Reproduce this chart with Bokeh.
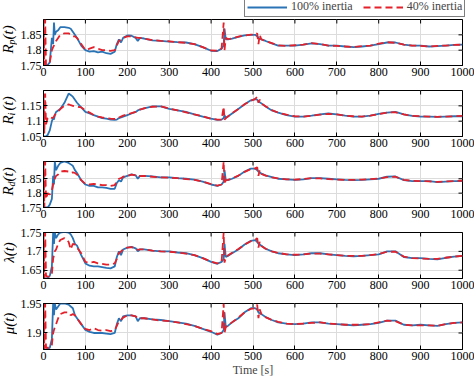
from math import pi
from bokeh.plotting import figure
from bokeh.models import FixedTicker, Legend, LegendItem, Range1d
from bokeh.layouts import column, row
from bokeh.embed import file_html
from bokeh.resources import INLINE
from bokeh.core.properties import value

# ---------------- data ----------------
T = [0, 2, 4, 6, 10, 15, 20, 23, 25, 27,
     30, 35, 40, 50, 60, 65, 70, 75, 80, 90,
     100, 110, 120, 130, 140, 150, 160, 170, 175, 180,
     185, 190, 200, 210, 220, 225, 230, 240, 260, 280,
     300, 320, 340, 360, 380, 400, 415, 425, 430, 432,
     435, 440, 450, 465, 480, 495, 505, 510, 513, 516,
     520, 530, 545, 560, 580, 600, 620, 640, 660, 680,
     700, 720, 740, 760, 780, 800, 820, 840, 860, 880,
     900, 920, 940, 960, 980, 1000]

RP_B = [1.745, 1.745, 1.748, 1.75, 1.752, 1.76, 1.84, 1.82, 1.89, 1.85,
        1.86, 1.865, 1.875, 1.875, 1.873, 1.87, 1.86, 1.85, 1.84, 1.815,
        1.80, 1.795, 1.797, 1.793, 1.795, 1.79, 1.788, 1.795, 1.82, 1.835,
        1.825, 1.84, 1.848, 1.847, 1.84, 1.83, 1.84, 1.838, 1.832, 1.83,
        1.828, 1.826, 1.825, 1.82, 1.81, 1.798, 1.797, 1.805, 1.815, 1.87,
        1.835, 1.835, 1.838, 1.843, 1.848, 1.85, 1.85, 1.845, 1.84, 1.838,
        1.835, 1.83, 1.822, 1.815, 1.815, 1.815, 1.818, 1.822, 1.82, 1.815,
        1.815, 1.812, 1.81, 1.812, 1.815, 1.82, 1.825, 1.825, 1.818, 1.815,
        1.815, 1.812, 1.813, 1.815, 1.817, 1.818]
RP_R = [1.90, 1.75, 1.90, 1.75, 1.755, 1.76, 1.80, 1.81, 1.815, 1.82,
        1.83, 1.84, 1.85, 1.855, 1.855, 1.85, 1.845, 1.845, 1.84, 1.82,
        1.80, 1.805, 1.81, 1.805, 1.80, 1.80, 1.798, 1.80, 1.815, 1.83,
        1.835, 1.84, 1.845, 1.845, 1.842, 1.84, 1.84, 1.838, 1.833, 1.83,
        1.829, 1.826, 1.824, 1.82, 1.81, 1.799, 1.798, 1.805, 1.89, 1.80,
        1.84, 1.836, 1.838, 1.844, 1.848, 1.851, 1.85, 1.855, 1.82, 1.85,
        1.835, 1.83, 1.823, 1.816, 1.814, 1.816, 1.818, 1.823, 1.82, 1.815,
        1.814, 1.812, 1.81, 1.813, 1.815, 1.821, 1.826, 1.824, 1.818, 1.815,
        1.814, 1.812, 1.814, 1.815, 1.817, 1.818]

RI_B = [1.05, 1.05, 1.05, 1.05, 1.055, 1.07, 1.10, 1.11, 1.105, 1.12,
        1.13, 1.135, 1.14, 1.16, 1.19, 1.185, 1.18, 1.17, 1.16, 1.145,
        1.13, 1.125, 1.12, 1.115, 1.11, 1.108, 1.105, 1.104, 1.105, 1.11,
        1.112, 1.115, 1.12, 1.125, 1.13, 1.135, 1.138, 1.142, 1.148, 1.148,
        1.14, 1.135, 1.13, 1.122, 1.115, 1.108, 1.104, 1.105, 1.11, 1.12,
        1.11, 1.115, 1.125, 1.14, 1.155, 1.168, 1.172, 1.17, 1.165, 1.162,
        1.158, 1.148, 1.135, 1.128, 1.12, 1.115, 1.115, 1.118, 1.122, 1.125,
        1.122, 1.118, 1.115, 1.115, 1.118, 1.124, 1.128, 1.13, 1.122, 1.117,
        1.115, 1.115, 1.114, 1.115, 1.116, 1.116]
RI_R = [1.19, 1.06, 1.19, 1.09, 1.11, 1.115, 1.11, 1.112, 1.115, 1.12,
        1.125, 1.13, 1.14, 1.15, 1.155, 1.152, 1.15, 1.148, 1.147, 1.145,
        1.135, 1.128, 1.12, 1.115, 1.112, 1.11, 1.108, 1.107, 1.108, 1.112,
        1.115, 1.118, 1.122, 1.126, 1.13, 1.134, 1.138, 1.142, 1.147, 1.148,
        1.141, 1.135, 1.129, 1.122, 1.116, 1.108, 1.105, 1.105, 1.147, 1.105,
        1.11, 1.115, 1.126, 1.14, 1.155, 1.167, 1.172, 1.18, 1.16, 1.17,
        1.158, 1.149, 1.136, 1.128, 1.121, 1.116, 1.115, 1.118, 1.121, 1.124,
        1.122, 1.118, 1.116, 1.115, 1.118, 1.123, 1.128, 1.129, 1.122, 1.117,
        1.116, 1.115, 1.114, 1.115, 1.116, 1.117]

RD_B = [1.75, 1.75, 1.75, 1.75, 1.75, 1.76, 1.78, 1.86, 1.83, 1.91,
        1.88, 1.895, 1.905, 1.91, 1.905, 1.90, 1.895, 1.88, 1.87, 1.845,
        1.83, 1.825, 1.825, 1.82, 1.82, 1.818, 1.815, 1.815, 1.835, 1.845,
        1.84, 1.855, 1.86, 1.865, 1.862, 1.85, 1.86, 1.86, 1.858, 1.855,
        1.855, 1.852, 1.85, 1.847, 1.84, 1.83, 1.825, 1.83, 1.84, 1.88,
        1.845, 1.845, 1.85, 1.86, 1.875, 1.885, 1.885, 1.88, 1.875, 1.872,
        1.868, 1.862, 1.856, 1.85, 1.848, 1.846, 1.848, 1.852, 1.852, 1.85,
        1.848, 1.846, 1.845, 1.846, 1.848, 1.85, 1.857, 1.858, 1.845, 1.842,
        1.842, 1.842, 1.838, 1.84, 1.842, 1.842]
RD_R = [1.91, 1.75, 1.91, 1.78, 1.80, 1.795, 1.81, 1.83, 1.845, 1.85,
        1.86, 1.865, 1.875, 1.877, 1.875, 1.87, 1.872, 1.87, 1.865, 1.845,
        1.832, 1.83, 1.832, 1.83, 1.828, 1.828, 1.825, 1.828, 1.84, 1.85,
        1.852, 1.857, 1.86, 1.864, 1.862, 1.858, 1.859, 1.86, 1.857, 1.855,
        1.854, 1.852, 1.849, 1.846, 1.84, 1.831, 1.826, 1.83, 1.91, 1.83,
        1.845, 1.846, 1.851, 1.861, 1.874, 1.884, 1.886, 1.89, 1.86, 1.88,
        1.867, 1.861, 1.855, 1.851, 1.848, 1.847, 1.849, 1.852, 1.851, 1.849,
        1.847, 1.846, 1.846, 1.847, 1.849, 1.851, 1.856, 1.857, 1.846, 1.843,
        1.842, 1.841, 1.839, 1.841, 1.842, 1.843]

LA_B = [1.628, 1.628, 1.628, 1.628, 1.63, 1.635, 1.66, 1.75, 1.72, 1.75,
        1.735, 1.745, 1.75, 1.752, 1.75, 1.745, 1.735, 1.72, 1.715, 1.69,
        1.668, 1.662, 1.66, 1.66, 1.658, 1.656, 1.655, 1.66, 1.685, 1.70,
        1.69, 1.705, 1.71, 1.712, 1.708, 1.70, 1.705, 1.705, 1.702, 1.70,
        1.70, 1.697, 1.695, 1.69, 1.682, 1.672, 1.667, 1.672, 1.68, 1.72,
        1.685, 1.688, 1.695, 1.705, 1.718, 1.728, 1.73, 1.725, 1.72, 1.718,
        1.715, 1.707, 1.70, 1.695, 1.692, 1.69, 1.692, 1.695, 1.695, 1.692,
        1.69, 1.688, 1.687, 1.688, 1.69, 1.692, 1.70, 1.70, 1.685, 1.682,
        1.682, 1.68, 1.679, 1.683, 1.686, 1.688]
LA_R = [1.75, 1.628, 1.75, 1.635, 1.633, 1.633, 1.64, 1.68, 1.69, 1.70,
        1.705, 1.72, 1.73, 1.735, 1.725, 1.705, 1.72, 1.718, 1.71, 1.695,
        1.672, 1.67, 1.672, 1.668, 1.667, 1.665, 1.665, 1.668, 1.68, 1.695,
        1.70, 1.705, 1.71, 1.711, 1.708, 1.704, 1.705, 1.705, 1.702, 1.70,
        1.699, 1.697, 1.694, 1.69, 1.682, 1.673, 1.668, 1.672, 1.75, 1.67,
        1.685, 1.689, 1.696, 1.706, 1.718, 1.727, 1.73, 1.735, 1.71, 1.725,
        1.714, 1.707, 1.70, 1.696, 1.692, 1.691, 1.692, 1.694, 1.694, 1.692,
        1.69, 1.688, 1.688, 1.688, 1.69, 1.693, 1.699, 1.699, 1.686, 1.682,
        1.681, 1.68, 1.68, 1.683, 1.686, 1.688]

MU_B = [1.872, 1.872, 1.872, 1.872, 1.873, 1.875, 1.89, 1.95, 1.93, 1.95,
        1.94, 1.945, 1.95, 1.95, 1.948, 1.945, 1.942, 1.93, 1.925, 1.915,
        1.905, 1.902, 1.90, 1.90, 1.90, 1.899, 1.898, 1.90, 1.915, 1.925,
        1.92, 1.928, 1.93, 1.93, 1.928, 1.92, 1.925, 1.925, 1.923, 1.922,
        1.92, 1.918, 1.916, 1.912, 1.907, 1.902, 1.897, 1.90, 1.905, 1.935,
        1.91, 1.912, 1.918, 1.925, 1.935, 1.942, 1.942, 1.94, 1.935, 1.933,
        1.932, 1.927, 1.922, 1.918, 1.916, 1.915, 1.916, 1.918, 1.918, 1.916,
        1.915, 1.914, 1.913, 1.914, 1.915, 1.917, 1.921, 1.921, 1.914, 1.913,
        1.914, 1.913, 1.912, 1.915, 1.917, 1.918]
MU_R = [1.95, 1.872, 1.95, 1.875, 1.875, 1.875, 1.88, 1.90, 1.905, 1.91,
        1.915, 1.925, 1.932, 1.935, 1.935, 1.93, 1.932, 1.93, 1.925, 1.915,
        1.907, 1.905, 1.908, 1.905, 1.904, 1.905, 1.903, 1.905, 1.912, 1.92,
        1.922, 1.926, 1.93, 1.93, 1.928, 1.925, 1.925, 1.925, 1.923, 1.921,
        1.92, 1.918, 1.915, 1.912, 1.907, 1.903, 1.898, 1.90, 1.95, 1.90,
        1.91, 1.913, 1.918, 1.926, 1.935, 1.941, 1.942, 1.948, 1.925, 1.94,
        1.932, 1.927, 1.922, 1.919, 1.916, 1.915, 1.916, 1.917, 1.918, 1.916,
        1.915, 1.914, 1.914, 1.914, 1.915, 1.918, 1.921, 1.92, 1.914, 1.913,
        1.913, 1.913, 1.912, 1.915, 1.917, 1.918]

X_TICKS = [0, 100, 200, 300, 400, 500, 600, 700, 800, 900, 1000]
SERIES_NAMES = ["100% inertia", "40% inertia"]
X_LABEL = "Time [s]"

PANELS = [
    dict(blue=RP_B, red=RP_R, yr=(1.75, 1.90), yt=[1.75, 1.8, 1.85], lab=["R", "p", "(t)"]),
    dict(blue=RI_B, red=RI_R, yr=(1.05, 1.20), yt=[1.05, 1.1, 1.15], lab=["R", "i", "(t)"]),
    dict(blue=RD_B, red=RD_R, yr=(1.75, 1.91), yt=[1.75, 1.8, 1.85], lab=["R", "d", "(t)"]),
    dict(blue=LA_B, red=LA_R, yr=(1.628, 1.75), yt=[1.65, 1.7, 1.75], lab=["λ(t)"]),
    dict(blue=MU_B, red=MU_R, yr=(1.872, 1.95), yt=[1.9, 1.95], lab=["μ(t)"]),
]

# ---------------- styling ----------------
FONT = "Liberation Serif"
BLUE = "#2a74b6"
RED = "#e3212b"
TOTAL_W = 474
LW = 17            # width of the y-label strip
W = TOTAL_W - LW
LEFT = 23
FW = 422
RIGHT = W - LEFT - FW
FH = 46
LEG_H = 18

# ---------------- legend strip ----------------
lg = figure(width=TOTAL_W, height=LEG_H, output_backend="svg", toolbar_location=None,
            x_range=Range1d(0, 1), y_range=Range1d(0, 1),
            x_axis_type=None, y_axis_type=None,
            min_border_left=0, min_border_right=0, min_border_top=0, min_border_bottom=0)
lg.outline_line_color = None
lg.grid.visible = False
# the series drawn here fall outside this strip's ranges; they only feed the legend
pb = lg.line(T, RP_B, line_color=BLUE, line_width=1.8)
pr = lg.line(T, RP_R, line_color=RED, line_width=1.8, line_dash="7 4")
leg = Legend(items=[LegendItem(label=SERIES_NAMES[0], renderers=[pb]),
                    LegendItem(label=SERIES_NAMES[1], renderers=[pr])],
             orientation="horizontal", location=(244, 1),
             label_text_font=FONT, label_text_font_size="12px",
             glyph_width=40, glyph_height=12, label_height=12, label_standoff=4,
             spacing=10, padding=2, margin=0, border_line_color="black",
             border_line_width=1, background_fill_alpha=1.0)
lg.add_layout(leg)

rows = [lg]
n = len(PANELS)
for i, pnl in enumerate(PANELS):
    top = 1 if i == 0 else 8
    bottom = 30 if i == n - 1 else 17
    H = top + FH + bottom

    # --- y-label strip (text glyphs, rotated) ---
    lf = figure(width=LW, height=H, output_backend="svg", toolbar_location=None,
                x_range=Range1d(0, LW), y_range=Range1d(0, FH),
                x_axis_type=None, y_axis_type=None,
                min_border_left=0, min_border_right=0,
                min_border_top=top, min_border_bottom=bottom)
    lf.outline_line_color = None
    lf.grid.visible = False
    if len(pnl["lab"]) == 3:
        cx = 7.5
        y0 = FH / 2 + 3 - 14
        lf.text(x=[cx], y=[y0], text=[pnl["lab"][0]], angle=pi / 2,
                text_font=value(FONT), text_font_style="italic", text_font_size="15px",
                text_align="left", text_baseline="middle", text_color="black")
        lf.text(x=[cx + 3.5], y=[y0 + 9], text=[pnl["lab"][1]], angle=pi / 2,
                text_font=value(FONT), text_font_style="italic", text_font_size="10px",
                text_align="left", text_baseline="middle", text_color="black")
        lf.text(x=[cx], y=[y0 + 14], text=[pnl["lab"][2]], angle=pi / 2,
                text_font=value(FONT), text_font_style="italic", text_font_size="15px",
                text_align="left", text_baseline="middle", text_color="black")
    else:
        lf.text(x=[8.5], y=[FH / 2 + 3], text=[pnl["lab"][0]], angle=pi / 2,
                text_font=value(FONT), text_font_style="italic", text_font_size="15px",
                text_align="center", text_baseline="middle", text_color="black")

    # --- main panel ---
    ylo, yhi = pnl["yr"]
    p = figure(width=W, height=H, output_backend="svg", toolbar_location=None,
               x_range=Range1d(0, 1000), y_range=Range1d(ylo, yhi),
               min_border_left=LEFT, min_border_right=RIGHT,
               min_border_top=top, min_border_bottom=bottom)
    p.outline_line_color = "black"
    p.outline_line_width = 1
    p.xgrid.grid_line_color = "#dcdcdc"
    p.ygrid.grid_line_color = "#dcdcdc"
    p.xaxis.ticker = FixedTicker(ticks=X_TICKS)
    p.yaxis.ticker = FixedTicker(ticks=pnl["yt"])
    for ax in (p.xaxis[0], p.yaxis[0]):
        ax.major_tick_in = 4
        ax.major_tick_out = 0
        ax.minor_tick_in = 0
        ax.minor_tick_out = 0
        ax.major_label_text_font = FONT
        ax.major_label_text_font_size = "12px"
        ax.major_label_text_color = "black"
        ax.axis_line_color = "black"
        ax.major_tick_line_color = "black"
    p.xaxis.major_label_standoff = 2
    p.yaxis.major_label_standoff = 2
    if i == n - 1:
        p.xaxis.axis_label = X_LABEL
        p.xaxis.axis_label_text_font = FONT
        p.xaxis.axis_label_text_font_size = "12px"
        p.xaxis.axis_label_text_font_style = "normal"
        p.xaxis.axis_label_standoff = 0

    # mirrored inward ticks on the top and right edges of the box (half of each dash is clipped)
    p.scatter(x=X_TICKS, y=[yhi] * len(X_TICKS), marker="dash", size=8, angle=pi / 2,
              line_color="black", line_width=1)
    p.scatter(x=[1000] * len(pnl["yt"]), y=pnl["yt"], marker="dash", size=8,
              line_color="black", line_width=1)

    p.line(T, pnl["blue"], line_color=BLUE, line_width=1.8)
    p.line(T, pnl["red"], line_color=RED, line_width=1.8, line_dash="7 4")
    rows.append(row(lf, p, spacing=0))

layout = column(*rows, spacing=0)
open("out.html", "w").write(file_html(layout, INLINE))
